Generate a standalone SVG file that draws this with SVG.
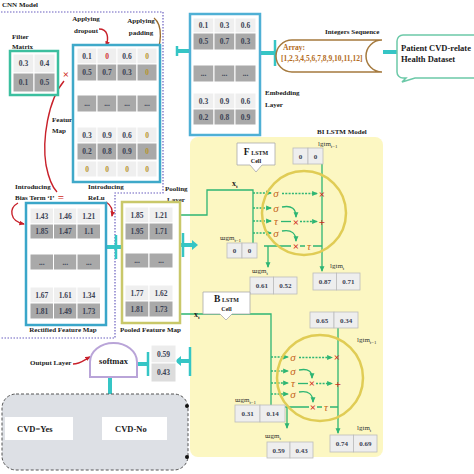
<svg xmlns="http://www.w3.org/2000/svg" width="474" height="474" viewBox="0 0 474 474">
<defs>
<style>
text{font-family:"Liberation Serif","Times New Roman","DejaVu Serif",serif;}
.lb{font-size:7px;font-weight:bold;fill:#1a1a1a}
.cv{font-size:7.5px;font-weight:bold;fill:#3b4254;text-anchor:middle}
.vv{font-size:7px;font-weight:bold;fill:#3b4254;text-anchor:middle}
.lt{fill:#efefef;stroke:#fff;stroke-width:1}
.dk{fill:#a9a9a9;stroke:#fff;stroke-width:1}
.vb{fill:#eeeeee;stroke:#bcbcbc;stroke-width:0.8}
.tc{stroke:#35c5c5;stroke-width:4;fill:none}
.tb{stroke:#35c5c5;stroke-width:2.5;fill:none}
.gl{stroke:#2db573;stroke-width:1.3;fill:none}
.gd{stroke:#2db573;stroke-width:1.3;fill:none;stroke-dasharray:2 1.3}
.sg{font-size:11px;font-style:italic;fill:#c5651c;text-anchor:middle}
.rx{font-size:11px;font-weight:bold;fill:#d02a20;text-anchor:middle}
.rl{stroke:#c8202a;stroke-width:1.4;fill:none}
.sm{font-size:7px;fill:#333}
.box{fill:#fff;stroke-width:2.5}
</style>
<marker id="ag" viewBox="0 0 6 6" refX="5" refY="3" markerWidth="4.5" markerHeight="4.5" orient="auto"><path d="M0,0.5 L6,3 L0,5.5 Z" fill="#2db573"/></marker>
<marker id="ar" viewBox="0 0 6 6" refX="5" refY="3" markerWidth="4" markerHeight="4" orient="auto"><path d="M0,0.5 L6,3 L0,5.5 Z" fill="#c8202a"/></marker>
<marker id="ab" viewBox="0 0 6 6" refX="5" refY="3" markerWidth="4" markerHeight="4" orient="auto"><path d="M0,0.5 L6,3 L0,5.5 Z" fill="#9a6a2a"/></marker>
</defs>
<rect width="474" height="474" fill="#fff"/>

<!-- regions -->
<g id="bilstm-region">
<rect x="190" y="137" width="193" height="320" rx="8" fill="#fcf7c2"/>
<text class="lb" x="317" y="134">BI LSTM Model</text>
</g>
<g id="cnn-region">
<path d="M-2,12 H163 V193 H115 V338 H-2" fill="none" stroke="#6a5fbf" stroke-width="1.2" stroke-dasharray="1.5 1.5"/>
<text class="lb" x="2" y="7" font-size="7.5">CNN Model</text>
</g>

<!-- connectors -->
<g id="connectors">
<path class="tc" d="M383,52 H398"/>
<path class="tb" d="M275,40 V66"/><path class="tc" d="M260,53 H275"/>
<path class="tc" d="M178,51 H190" stroke-linecap="round"/><path class="tb" d="M177,46 V56"/>
<path class="tb" d="M116,235 V259"/><path class="tc" d="M106,247 H125"/>
<path class="tb" d="M183,233 V257"/><path class="tc" d="M180,245 H193"/><polygon points="192,240 198,245 192,250" fill="#35c5c5"/>
<path class="tb" d="M190,347 V376"/><path class="tc" d="M180,361 H190"/><polygon points="181,356 175,361 181,366" fill="#35c5c5"/>
<path class="tc" d="M137,364 H148"/><path class="tb" d="M148,352 V376"/>
<path class="tc" d="M110,377 V394" stroke-width="5"/>
<!-- red annotation arrows -->
<path class="rl" d="M99,29 C108,29 109,38 106,46" marker-end="url(#ar)"/>
<path d="M154,18 C163,25 162,46 154,56" stroke="#9a6a2a" stroke-width="1.3" fill="none" marker-end="url(#ab)"/>
<path class="rl" d="M64,81 C48,100 42,140 46,165 C49,180 53,188 57,192"/>
<path class="rl" d="M18,203 C9,208 9,221 24,224" marker-end="url(#ar)"/>
<path class="rl" d="M106,202 C111,205 113,210 112,216" marker-end="url(#ar)"/>
<path class="rl" d="M73,364 C80,364 84,360 90,357" marker-end="url(#ar)"/>
<!-- F LSTM lines -->
<path class="gl" d="M174,215 H207 V190 H253 V243"/>
<path class="gd" d="M253,193 H271" marker-end="url(#ag)"/>
<path class="gd" d="M253,208 H271" marker-end="url(#ag)"/>
<path class="gd" d="M253,221 H271" marker-end="url(#ag)"/>
<path class="gd" d="M253,233 H271" marker-end="url(#ag)"/>
<path class="gd" d="M282,193.5 H317" marker-end="url(#ag)"/>
<path class="gl" d="M282,207 C292,205 296,209 296,217" marker-end="url(#ag)"/>
<path class="gl" d="M281,221.5 H291"/>
<path class="gd" d="M300,221.5 H317" marker-end="url(#ag)"/>
<path class="gl" d="M282,231 C292,229 296,234 296,241" marker-end="url(#ag)"/>
<path class="gl" d="M264,246 H291 M300,246 H305 M313,246 H322"/>
<path class="gl" d="M322,164 V271" marker-end="url(#ag)"/>
<path class="gl" d="M268,246 V267" marker-end="url(#ag)"/>
<!-- B LSTM lines -->
<path class="gl" d="M178,314 H271 V405"/>
<path class="gd" d="M271,357 H288" marker-end="url(#ag)"/>
<path class="gd" d="M271,371 H288" marker-end="url(#ag)"/>
<path class="gd" d="M271,383 H288" marker-end="url(#ag)"/>
<path class="gd" d="M271,394 H288" marker-end="url(#ag)"/>
<path class="gd" d="M299,357.5 H332" marker-end="url(#ag)"/>
<path class="gl" d="M299,370 C309,368 312,372 312,378" marker-end="url(#ag)"/>
<path class="gl" d="M298,383.5 H308"/>
<path class="gd" d="M316,383.5 H332" marker-end="url(#ag)"/>
<path class="gl" d="M299,392 C309,390 313,395 313,402" marker-end="url(#ag)"/>
<path class="gl" d="M285,407 H309 M317,407 H322 M330,407 H338"/>
<path class="gl" d="M338,328 V433" marker-end="url(#ag)"/>
<path class="gl" d="M287,407 V428" marker-end="url(#ag)"/>
</g>

<!-- Filter matrix -->
<g id="filter-matrix">
<text class="lb" x="12" y="38.5">Filter</text>
<text class="lb" x="12" y="48.5">Matrix</text>
<rect class="box" x="10" y="51" width="48" height="44" stroke="#3cbf9f"/>
<rect class="lt" x="13" y="54" width="21" height="19"/><rect class="lt" x="34" y="54" width="21" height="19"/>
<rect class="dk" x="13" y="73" width="21" height="19"/><rect class="dk" x="34" y="73" width="21" height="19"/>
<text class="cv" x="23.5" y="66">0.3</text><text class="cv" x="44.5" y="66">0.4</text>
<text class="cv" x="23.5" y="85">0.1</text><text class="cv" x="44.5" y="85">0.5</text>
<text x="66" y="78" class="rx" font-size="10">×</text>
</g>

<!-- CNN feature map -->
<g id="cnn-feature-map">
<text class="lb" x="86" y="21" text-anchor="middle">Applying</text>
<text class="lb" x="86" y="32.5" text-anchor="middle">dropout</text>
<text class="lb" x="141" y="23" text-anchor="middle">Applying</text>
<text class="lb" x="141" y="34.5" text-anchor="middle">padding</text>
<text class="lb" x="52" y="122">Feature</text>
<text class="lb" x="52" y="133">Map</text>
<rect class="box" x="73" y="45" width="87" height="137" stroke="#3fa9c9"/>
<rect class="lt" x="77" y="48" width="20" height="16"/><rect class="lt" x="97" y="48" width="20" height="16"/><rect class="lt" x="117" y="48" width="20" height="16"/><rect class="lt" x="137" y="48" width="20" height="16"/>
<rect class="dk" x="77" y="64" width="20" height="17"/><rect class="dk" x="97" y="64" width="20" height="17"/><rect class="dk" x="117" y="64" width="20" height="17"/><rect class="dk" x="137" y="64" width="20" height="17"/>
<rect class="dk" x="77" y="95" width="20" height="17"/><rect class="dk" x="97" y="95" width="20" height="17"/><rect class="dk" x="117" y="95" width="20" height="17"/><rect class="dk" x="137" y="95" width="20" height="17"/>
<rect class="lt" x="77" y="127" width="20" height="16"/><rect class="lt" x="97" y="127" width="20" height="16"/><rect class="lt" x="117" y="127" width="20" height="16"/><rect class="lt" x="137" y="127" width="20" height="16"/>
<rect class="dk" x="77" y="143" width="20" height="17"/><rect class="dk" x="97" y="143" width="20" height="17"/><rect class="dk" x="117" y="143" width="20" height="17"/><rect class="dk" x="137" y="143" width="20" height="17"/>
<rect class="lt" x="77" y="161" width="20" height="16"/><rect class="lt" x="97" y="161" width="20" height="16"/><rect class="lt" x="117" y="161" width="20" height="16"/><rect class="lt" x="137" y="161" width="20" height="16"/>
<text class="cv" x="87" y="58.6">0.1</text><text class="cv" x="107" y="58.6" style="fill:#d03030">0</text><text class="cv" x="127" y="58.6">0.6</text><text class="cv" x="147" y="58.6" style="fill:#b8952a">0</text>
<text class="cv" x="87" y="75">0.5</text><text class="cv" x="107" y="75">0.7</text><text class="cv" x="127" y="75">0.3</text><text class="cv" x="147" y="75" style="fill:#b8952a">0</text>
<text class="cv" x="87" y="106">...</text><text class="cv" x="107" y="106">...</text><text class="cv" x="127" y="106">...</text><text class="cv" x="147" y="106">...</text>
<text class="cv" x="87" y="137.6">0.3</text><text class="cv" x="107" y="137.6">0.9</text><text class="cv" x="127" y="137.6">0.6</text><text class="cv" x="147" y="137.6" style="fill:#b8952a">0</text>
<text class="cv" x="87" y="154">0.2</text><text class="cv" x="107" y="154">0.8</text><text class="cv" x="127" y="154">0.9</text><text class="cv" x="147" y="154" style="fill:#b8952a">0</text>
<text class="cv" x="87" y="171.6" style="fill:#b8952a">0</text><text class="cv" x="107" y="171.6" style="fill:#b8952a">0</text><text class="cv" x="127" y="171.6" style="fill:#b8952a">0</text><text class="cv" x="147" y="171.6" style="fill:#b8952a">0</text>
</g>

<!-- Embedding layer -->
<g id="embedding-layer">
<rect class="box" x="190" y="14" width="70" height="121" stroke="#4fb0d5"/>
<rect class="lt" x="193" y="18" width="21" height="15"/><rect class="lt" x="214" y="18" width="21" height="15"/><rect class="lt" x="235" y="18" width="21" height="15"/>
<rect class="dk" x="193" y="33" width="21" height="17"/><rect class="dk" x="214" y="33" width="21" height="17"/><rect class="dk" x="235" y="33" width="21" height="17"/>
<rect class="dk" x="193" y="65" width="21" height="17"/><rect class="dk" x="214" y="65" width="21" height="17"/><rect class="dk" x="235" y="65" width="21" height="17"/>
<rect class="lt" x="193" y="93" width="21" height="16"/><rect class="lt" x="214" y="93" width="21" height="16"/><rect class="lt" x="235" y="93" width="21" height="16"/>
<rect class="dk" x="193" y="109" width="21" height="16"/><rect class="dk" x="214" y="109" width="21" height="16"/><rect class="dk" x="235" y="109" width="21" height="16"/>
<text class="cv" x="203.5" y="28">0.1</text><text class="cv" x="224.5" y="28">0.3</text><text class="cv" x="245.5" y="28">0.6</text>
<text class="cv" x="203.5" y="44">0.5</text><text class="cv" x="224.5" y="44">0.7</text><text class="cv" x="245.5" y="44">0.3</text>
<text class="cv" x="203.5" y="76">...</text><text class="cv" x="224.5" y="76">...</text><text class="cv" x="245.5" y="76">...</text>
<text class="cv" x="203.5" y="103.6">0.3</text><text class="cv" x="224.5" y="103.6">0.9</text><text class="cv" x="245.5" y="103.6">0.6</text>
<text class="cv" x="203.5" y="119.6">0.2</text><text class="cv" x="224.5" y="119.6">0.8</text><text class="cv" x="245.5" y="119.6">0.9</text>
<text class="lb" x="265" y="95">Embedding</text>
<text class="lb" x="265" y="107">Layer</text>
</g>

<!-- Integer sequence -->
<g id="integer-sequence">
<text class="lb" x="325" y="34">Integers Sequence</text>
<path d="M292,40 H382 A16,16 0 0 0 382,72 H292 A16,16 0 0 1 292,40 Z" fill="#fff" stroke="#a57a3e" stroke-width="1.5"/>
<text x="283" y="50" font-size="7.5" font-weight="bold" fill="#b36b22">Array:</text>
<text x="281" y="60.5" font-size="7.5" font-weight="bold" fill="#b36b22">[1,2,3,4,5,6,7,8,9,10,11,12]</text>
</g>

<!-- Patient dataset -->
<g id="patient-dataset">
<path d="M403,35 H480 V78 H415 L402,82 L406,78 H403 A6,6 0 0 1 397,72 V41 A6,6 0 0 1 403,35 Z" fill="#fff" stroke="#6cc9a8" stroke-width="1.5"/>
<text x="401" y="51" font-size="8.5" font-weight="bold" fill="#1a1a1a">Patient CVD-relate</text>
<text x="401" y="61.5" font-size="8.5" font-weight="bold" fill="#1a1a1a">Health Dataset</text>
</g>

<!-- Rectified feature map -->
<g id="rectified-feature-map">
<text class="lb" x="15" y="188.5">Introducing</text>
<text class="lb" x="15" y="200">Bias Term ‘I’</text>
<text x="61" y="200.5" class="rx" font-size="10">=</text>
<text class="lb" x="88" y="189">Introducing</text>
<text class="lb" x="88" y="200">ReLu</text>
<rect class="box" x="26" y="203" width="80" height="122" stroke="#3aa6c9"/>
<rect class="lt" x="30" y="208" width="23.5" height="16"/><rect class="lt" x="53.5" y="208" width="23.5" height="16"/><rect class="lt" x="77" y="208" width="23.5" height="16"/>
<rect class="dk" x="30" y="224" width="23.5" height="15"/><rect class="dk" x="53.5" y="224" width="23.5" height="15"/><rect class="dk" x="77" y="224" width="23.5" height="15"/>
<rect class="dk" x="30" y="254" width="23.5" height="16"/><rect class="dk" x="53.5" y="254" width="23.5" height="16"/><rect class="dk" x="77" y="254" width="23.5" height="16"/>
<rect class="lt" x="30" y="287" width="23.5" height="16"/><rect class="lt" x="53.5" y="287" width="23.5" height="16"/><rect class="lt" x="77" y="287" width="23.5" height="16"/>
<rect class="dk" x="30" y="303" width="23.5" height="16"/><rect class="dk" x="53.5" y="303" width="23.5" height="16"/><rect class="dk" x="77" y="303" width="23.5" height="16"/>
<text class="cv" x="41.75" y="218.6">1.43</text><text class="cv" x="65.25" y="218.6">1.46</text><text class="cv" x="88.75" y="218.6">1.21</text>
<text class="cv" x="41.75" y="234">1.85</text><text class="cv" x="65.25" y="234">1.47</text><text class="cv" x="88.75" y="234">1.1</text>
<text class="cv" x="41.75" y="264.6">...</text><text class="cv" x="65.25" y="264.6">...</text><text class="cv" x="88.75" y="264.6">...</text>
<text class="cv" x="41.75" y="297.6">1.67</text><text class="cv" x="65.25" y="297.6">1.61</text><text class="cv" x="88.75" y="297.6">1.34</text>
<text class="cv" x="41.75" y="313.6">1.81</text><text class="cv" x="65.25" y="313.6">1.49</text><text class="cv" x="88.75" y="313.6">1.73</text>
<text class="lb" x="63" y="332" text-anchor="middle">Rectified Feature Map</text>
</g>

<!-- Pooled feature map -->
<g id="pooled-feature-map">
<text class="lb" x="165" y="191">Pooling</text>
<text class="lb" x="167" y="202">Layer</text>
<rect class="box" x="122" y="202" width="58" height="121" stroke="#c9c86a"/>
<rect class="lt" x="125" y="207" width="24" height="16"/><rect class="lt" x="149" y="207" width="24" height="16"/>
<rect class="dk" x="125" y="223" width="24" height="17"/><rect class="dk" x="149" y="223" width="24" height="17"/>
<rect class="dk" x="125" y="253" width="24" height="15"/><rect class="dk" x="149" y="253" width="24" height="15"/>
<rect class="lt" x="125" y="285" width="24" height="16"/><rect class="lt" x="149" y="285" width="24" height="16"/>
<rect class="dk" x="125" y="301" width="24" height="16"/><rect class="dk" x="149" y="301" width="24" height="16"/>
<text class="cv" x="137" y="217.6">1.85</text><text class="cv" x="161" y="217.6">1.21</text>
<text class="cv" x="137" y="234">1.95</text><text class="cv" x="161" y="234">1.71</text>
<text class="cv" x="137" y="263">...</text><text class="cv" x="161" y="263">...</text>
<text class="cv" x="137" y="295.6">1.77</text><text class="cv" x="161" y="295.6">1.62</text>
<text class="cv" x="137" y="311.6">1.81</text><text class="cv" x="161" y="311.6">1.73</text>
<text class="lb" x="120" y="332">Pooled Feature Map</text>
</g>

<!-- F LSTM cell -->
<g id="f-lstm-cell">
<circle cx="304" cy="213" r="42" fill="none" stroke="#e0cc55" stroke-width="2.5"/>
<path d="M237,143 H275 V165 H262 L256,172 L250,165 H237 Z" fill="#fff" stroke="#aaa" stroke-width="0.8"/>
<text x="256" y="154.5" text-anchor="middle" font-weight="bold" fill="#1a1a1a"><tspan font-size="9.5">F</tspan><tspan font-size="6"> LSTM</tspan></text>
<text x="256" y="163" text-anchor="middle" font-size="6" font-weight="bold" fill="#1a1a1a">Cell</text>
<text x="232" y="186" font-size="8" font-weight="bold" fill="#1a1a1a">x<tspan font-size="5" dy="1.5">t</tspan></text>
<text class="sg" x="276" y="196.5">σ</text><text class="sg" x="276" y="211.5">σ</text><text class="sg" x="276" y="224.5">τ</text><text class="sg" x="276" y="236.5">σ</text>
<text class="rx" x="322" y="197.5">×</text><text class="rx" x="296" y="225.5">×</text><text class="rx" x="322" y="226">+</text><text class="rx" x="296" y="249.5">×</text>
<text class="sg" x="309" y="249.5">τ</text>
<text class="sm" x="318" y="146">lgtm<tspan font-size="5" dy="1.5">t−1</tspan></text>
<rect class="vb" x="293" y="148" width="15" height="16"/><rect class="vb" x="308" y="148" width="15" height="16"/>
<text class="vv" x="300.5" y="158.6">0</text><text class="vv" x="315.5" y="158.6">0</text>
<text class="sm" x="330" y="268">lgtm<tspan font-size="5" dy="1.5">t</tspan></text>
<rect class="vb" x="313" y="273" width="23.5" height="17"/><rect class="vb" x="336.5" y="273" width="23.5" height="17"/>
<text class="vv" x="324.75" y="284">0.87</text><text class="vv" x="348.25" y="284">0.71</text>
<text class="sm" x="220" y="240">ɯgm<tspan font-size="5" dy="1.5">t−1</tspan></text>
<rect class="vb" x="227" y="243" width="15" height="15"/><rect class="vb" x="242" y="243" width="15" height="15"/>
<text class="vv" x="234.5" y="253">0</text><text class="vv" x="249.5" y="253">0</text>
<text class="sm" x="252" y="273">ɯgm<tspan font-size="5" dy="1.5">t</tspan></text>
<rect class="vb" x="250" y="277" width="23.5" height="17"/><rect class="vb" x="273.5" y="277" width="23.5" height="17"/>
<text class="vv" x="261.75" y="288">0.61</text><text class="vv" x="285.25" y="288">0.52</text>
</g>

<!-- B LSTM cell -->
<g id="b-lstm-cell">
<circle cx="320" cy="378" r="43" fill="none" stroke="#e0cc55" stroke-width="2.5"/>
<path d="M203,292 H250 V314 H232 L226,320 L220,314 H203 Z" fill="#fff" stroke="#aaa" stroke-width="0.8"/>
<text x="226.5" y="302" text-anchor="middle" font-weight="bold" fill="#1a1a1a"><tspan font-size="9.5">B</tspan><tspan font-size="6"> LSTM</tspan></text>
<text x="226.5" y="310.5" text-anchor="middle" font-size="6" font-weight="bold" fill="#1a1a1a">Cell</text>
<text x="194" y="317" font-size="8" font-weight="bold" fill="#1a1a1a">x<tspan font-size="5" dy="1.5">t</tspan></text>
<text class="sg" x="293" y="360.5">σ</text><text class="sg" x="293" y="374.5">σ</text><text class="sg" x="293" y="387">τ</text><text class="sg" x="293" y="397.5">σ</text>
<text class="rx" x="337" y="361">×</text><text class="rx" x="312" y="387">×</text><text class="rx" x="338" y="387.5">+</text><text class="rx" x="313" y="410.5">×</text>
<text class="sg" x="326" y="410.5">τ</text>
<rect class="vb" x="310" y="312" width="24" height="16"/><rect class="vb" x="334" y="312" width="24" height="16"/>
<text class="vv" x="322" y="322.6">0.65</text><text class="vv" x="346" y="322.6">0.34</text>
<text class="sm" x="357" y="342">lgtm<tspan font-size="5" dy="1.5">t−1</tspan></text>
<text class="sm" x="357" y="430">lgtm<tspan font-size="5" dy="1.5">t</tspan></text>
<rect class="vb" x="330" y="435" width="23.5" height="17"/><rect class="vb" x="353.5" y="435" width="23.5" height="17"/>
<text class="vv" x="341.75" y="446">0.74</text><text class="vv" x="365.25" y="446">0.69</text>
<text class="sm" x="235" y="402">ɯgm<tspan font-size="5" dy="1.5">t−1</tspan></text>
<rect class="vb" x="235" y="405" width="25" height="17"/><rect class="vb" x="260" y="405" width="25" height="17"/>
<text class="vv" x="247.5" y="416">0.31</text><text class="vv" x="272.5" y="416">0.14</text>
<text class="sm" x="265" y="438">ɯgm<tspan font-size="5" dy="1.5">t</tspan></text>
<rect class="vb" x="267" y="442" width="23" height="16"/><rect class="vb" x="290" y="442" width="23" height="16"/>
<text class="vv" x="278.5" y="452.6">0.59</text><text class="vv" x="301.5" y="452.6">0.43</text>
</g>

<!-- Output layer -->
<g id="softmax-output">
<text class="lb" x="30" y="365">Output Layer</text>
<path d="M90,377 V362 A23.5,19 0 0 1 137,362 V377 Z" fill="#fff" stroke="#b9a4d8" stroke-width="2"/>
<text x="113.5" y="363.5" text-anchor="middle" font-size="8.5" font-weight="bold" fill="#1a1a1a">softmax</text>
</g>
<g id="output-values">
<rect x="151" y="345" width="25" height="18" fill="#ececec" stroke="#fff"/>
<rect x="151" y="363" width="25" height="19" fill="#dcdcdc" stroke="#fff"/>
<text class="cv" x="163.5" y="356.6">0.59</text>
<text class="cv" x="163.5" y="375">0.43</text>
</g>

<!-- CVD classes -->
<g id="cvd-classes">
<rect x="2" y="394" width="186" height="76" rx="14" fill="#dde0e5" stroke="#555" stroke-width="1" stroke-dasharray="3 2"/>
<circle cx="187" cy="406" r="2" fill="#111"/><circle cx="187" cy="457" r="2" fill="#111"/>
<rect x="5" y="417" width="68" height="23" fill="#fff"/>
<text x="17" y="432" font-size="8.5" font-weight="bold" fill="#1a1a1a">CVD=Yes</text>
<rect x="102" y="417" width="65" height="23" fill="#fff"/>
<text x="115" y="432" font-size="8.5" font-weight="bold" fill="#1a1a1a">CVD-No</text>
</g>
</svg>
